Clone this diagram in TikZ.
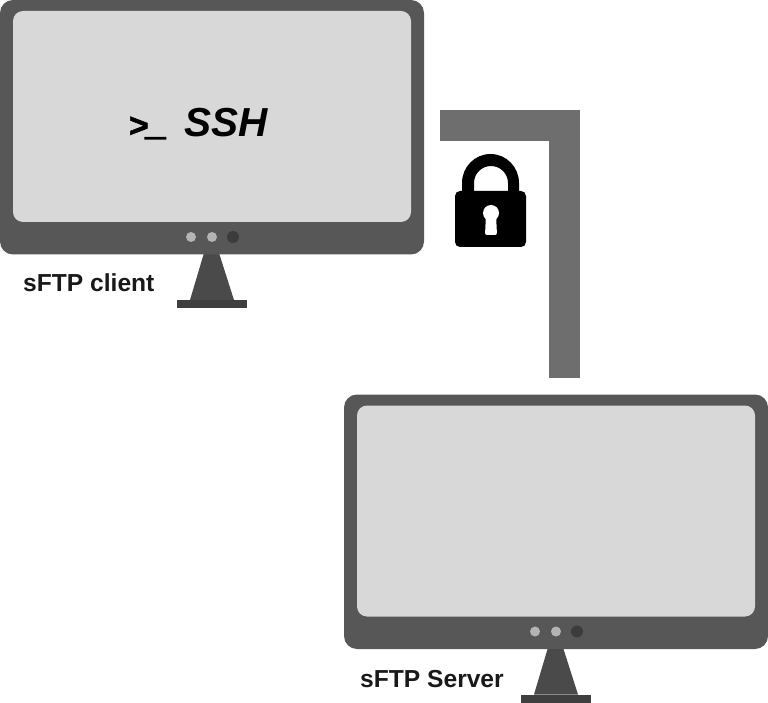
\documentclass[tikz,border=0pt]{standalone}
\usepackage{fontspec}
\setmainfont{Liberation Sans}
\definecolor{frameC}{HTML}{575757}
\definecolor{screenC}{HTML}{D8D8D8}
\definecolor{standC}{HTML}{4A4A4A}
\definecolor{baseC}{HTML}{3F3F3F}
\definecolor{dotL}{HTML}{B4B4B4}
\definecolor{dotD}{HTML}{3C3C3C}
\definecolor{wireC}{HTML}{6E6E6E}
\tikzset{
  x=1pt,y=-1pt,
  framebox/.style={fill=frameC,rounded corners=13pt},
  screenbox/.style={fill=screenC,rounded corners=10pt},
  standshape/.style={fill=standC},
  baseshape/.style={fill=baseC},
  wire/.style={draw=wireC,line width=31pt,miter limit=10},
  labeltext/.style={inner sep=0pt,anchor=base west,font=\fontsize{24.6}{28}\selectfont\bfseries,text=black!90},
  sshtext/.style={inner sep=0pt,anchor=base west,font=\fontsize{40.5}{46}\selectfont\bfseries\itshape,text=black},
  pics/monitor/.style={code={
    \fill[standshape] (204,253) -- (219,253) -- (234,300) -- (190,300) -- cycle;
    \fill[baseshape] (177,300) rectangle (247,308);
    \fill[framebox] (0,0) rectangle (424,254.5);
    \fill[screenbox] (13,11) rectangle (411,222);
    \fill[dotL] (191,237) circle (5);
    \fill[dotL] (212,237) circle (5);
    \fill[dotD] (233,237) circle (6);
  }}
}
\begin{document}
\begin{tikzpicture}
\useasboundingbox (0,0) rectangle (768,703);
\begin{scope}
\clip (0,0) rectangle (768,703);
\pic (client) at (0,0) {monitor};
\pic (server) at (344,394.5) {monitor};
\end{scope}
\coordinate (wireA) at (440,125.5);
\coordinate (wireB) at (564.5,125.5);
\coordinate (wireC1) at (564.5,378);
\draw[wire] (wireA) -- (wireB) -- (wireC1);
% padlock
\fill[black,even odd rule]
  (462,195) -- (462,183) arc[start angle=180,end angle=0,x radius=28.5,y radius=-29] -- (519,195) -- (508,195) -- (508,183)
  arc[start angle=0,end angle=180,x radius=17,y radius=-17] -- (474,195) -- cycle;
\fill[black,rounded corners=5pt,even odd rule] (455,191) rectangle (526,247);
\fill[white] (491,213) circle (8);
\fill[white,rounded corners=2pt] (486,214) -- (496,214) -- (497,235) -- (485,235) -- cycle;
\node[sshtext] (ssh) at (128,137) {{\fontsize{34}{40}\selectfont\addfontfeatures{FakeBold=1.5}>\kern-1pt\raisebox{2.5pt}{\fontsize{36}{40}\selectfont\addfontfeatures{FakeBold=3.5}\_}}\kern17pt SSH};
\node[labeltext] (clientlabel) at (23,291) {sFTP client};
\node[labeltext] (serverlabel) at (360,687) {sFTP Server};
\end{tikzpicture}
\end{document}
